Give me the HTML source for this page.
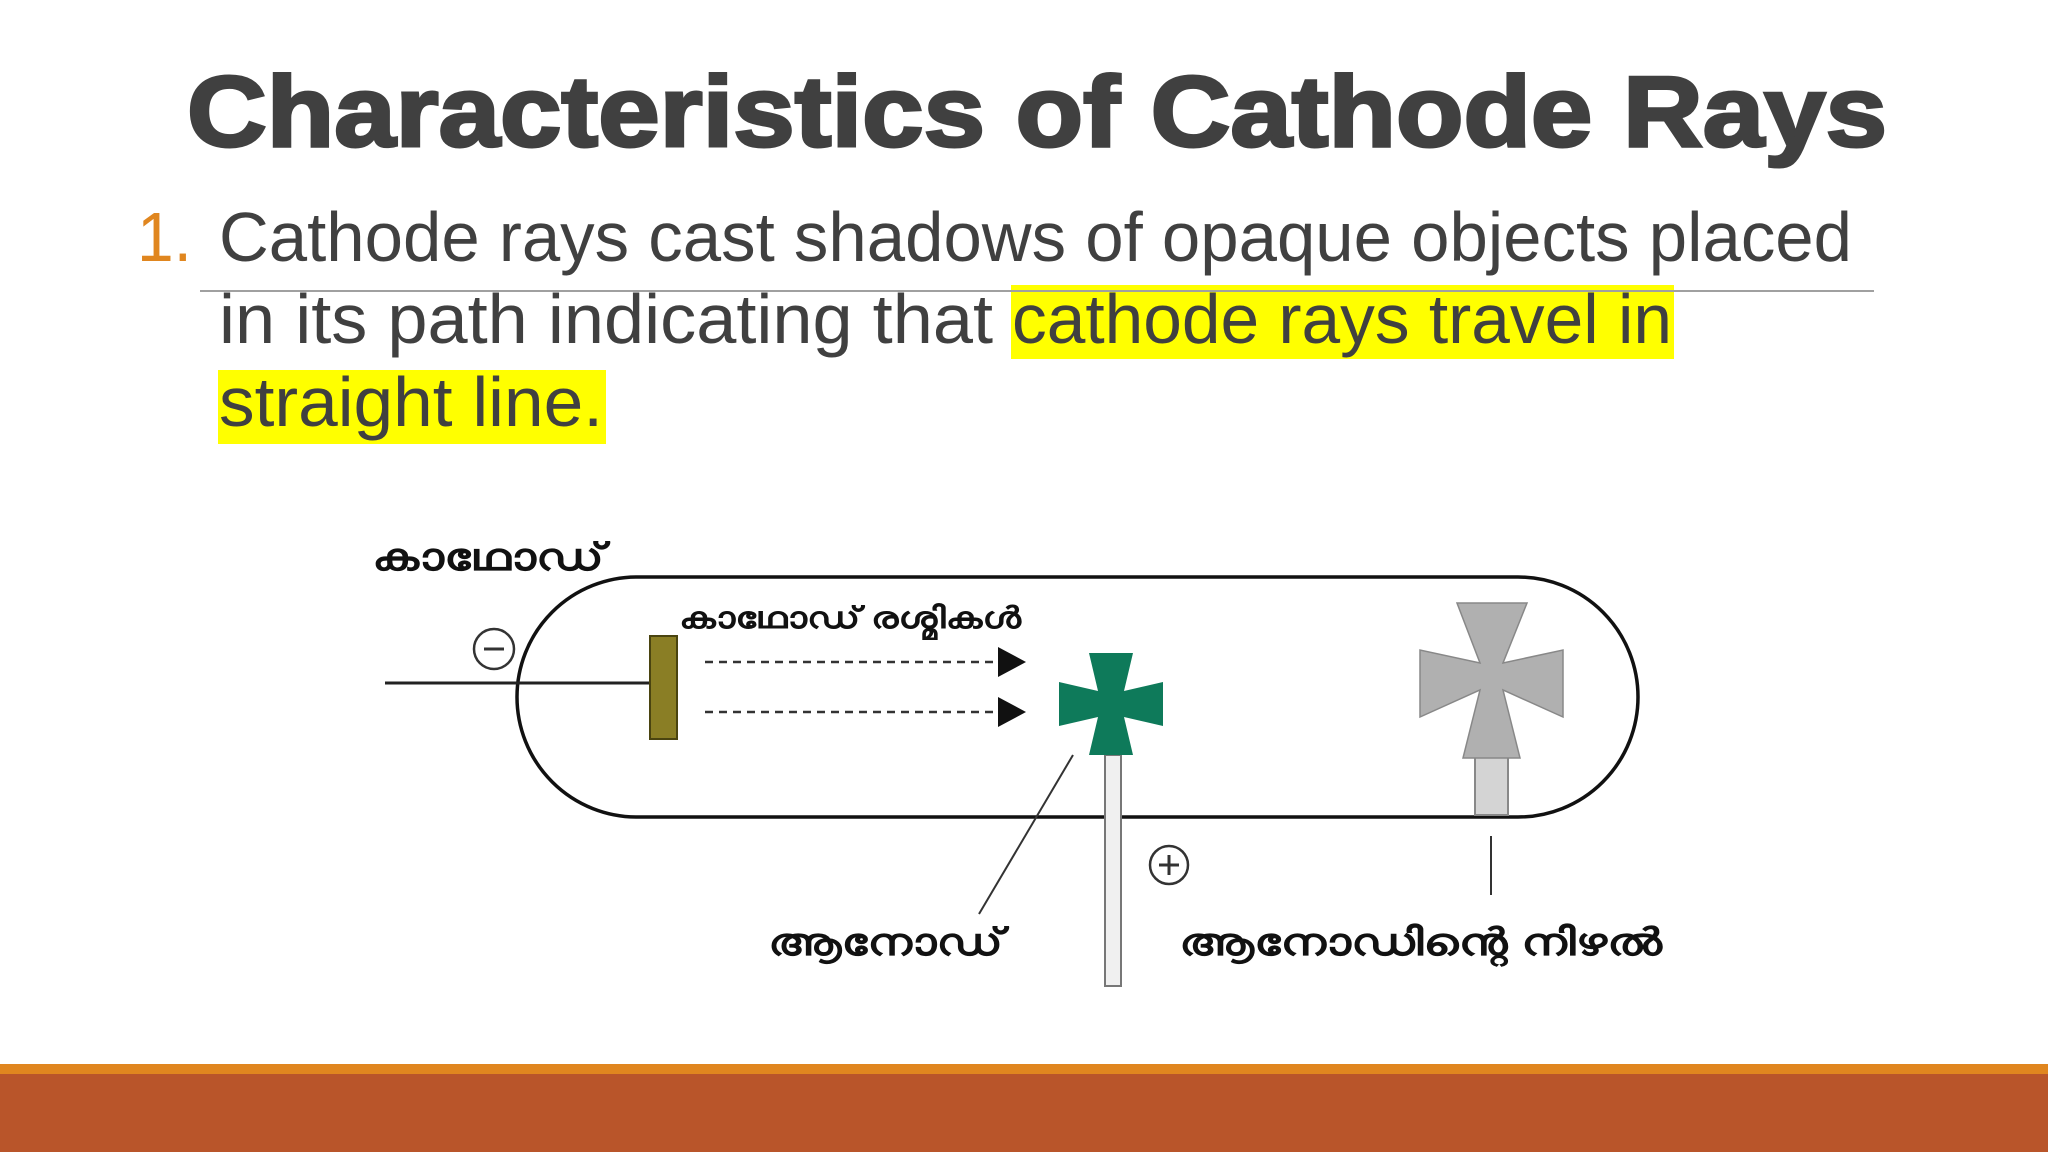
<!DOCTYPE html>
<html><head><meta charset="utf-8"><style>html,body{margin:0;padding:0;background:#fff}svg{display:block}</style></head>
<body>
<svg width="2048" height="1152" viewBox="0 0 2048 1152" xmlns="http://www.w3.org/2000/svg">
<rect width="2048" height="1152" fill="#fff"/>
<text x="187" y="146" font-family="Liberation Sans, sans-serif" font-weight="bold" font-size="100" fill="#404040" textLength="1700" lengthAdjust="spacingAndGlyphs" stroke="#404040" stroke-width="3">Characteristics of Cathode Rays</text>
<rect x="1011" y="285" width="663" height="74" fill="#ffff00"/>
<rect x="218" y="370" width="388" height="74" fill="#ffff00"/>
<line x1="200" y1="291" x2="1874" y2="291" stroke="#a0a0a0" stroke-width="2"/>
<g font-family="Liberation Sans, sans-serif" font-size="70" fill="#404040">
<text x="137" y="261" fill="#e0861f" textLength="55" lengthAdjust="spacingAndGlyphs">1.</text>
<text x="219" y="261" textLength="1633" lengthAdjust="spacingAndGlyphs">Cathode rays cast shadows of opaque objects placed</text>
<text x="219" y="343" textLength="774" lengthAdjust="spacingAndGlyphs">in its path indicating that</text>
<text x="1012" y="343" textLength="660" lengthAdjust="spacingAndGlyphs">cathode rays travel in</text>
<text x="219" y="426" textLength="384" lengthAdjust="spacingAndGlyphs">straight line.</text>
</g>
<rect x="517" y="577" width="1121" height="240" rx="120" ry="120" fill="none" stroke="#111" stroke-width="3.5"/>
<line x1="385" y1="683" x2="652" y2="683" stroke="#222" stroke-width="3"/>
<rect x="650" y="636" width="27" height="103" fill="#8a7e25" stroke="#4a4410" stroke-width="2"/>
<circle cx="494" cy="649" r="20" fill="#fff" stroke="#333" stroke-width="2.5"/>
<line x1="484" y1="649" x2="504" y2="649" stroke="#333" stroke-width="3"/>
<g stroke="#333" stroke-width="2.5" stroke-dasharray="8,6">
<line x1="705" y1="662" x2="1000" y2="662"/>
<line x1="705" y1="712" x2="1000" y2="712"/>
</g>
<polygon points="998,647 1026,662 998,677" fill="#111"/>
<polygon points="998,697 1026,712 998,727" fill="#111"/>
<rect x="1105" y="755" width="16" height="231" fill="#f0f0f0" stroke="#777" stroke-width="2"/>
<polygon fill="#0e7a5a" transform="translate(1111,704)" points="-22,-51 22,-51 13,-13 52,-22 52,22 13,13 22,51 -22,51 -13,13 -52,22 -52,-22 -13,-13"/>
<circle cx="1169" cy="865" r="19" fill="#fff" stroke="#333" stroke-width="2.5"/>
<line x1="1159" y1="865" x2="1179" y2="865" stroke="#333" stroke-width="3"/>
<line x1="1169" y1="855" x2="1169" y2="875" stroke="#333" stroke-width="3"/>
<rect x="1475" y="757" width="33" height="58" fill="#d4d4d4" stroke="#888" stroke-width="2"/>
<polygon fill="#b0b0b0" stroke="#888" stroke-width="1.5" points="1457,603 1527,603 1503,663 1563,650 1563,717 1503,690 1520,758 1463,758 1480,690 1420,717 1420,650 1480,663"/>
<line x1="1491" y1="836" x2="1491" y2="895" stroke="#333" stroke-width="2"/>
<line x1="979" y1="914" x2="1073" y2="755" stroke="#333" stroke-width="2"/>
<g font-family="Liberation Sans, 'DejaVu Sans', sans-serif" font-weight="bold" fill="#111">
<text x="372" y="570" font-size="38" textLength="232" lengthAdjust="spacingAndGlyphs">കാഥോഡ്</text>
<text x="679" y="628" font-size="30" textLength="342" lengthAdjust="spacingAndGlyphs">കാഥോഡ് രശ്മികൾ</text>
<text x="768" y="955" font-size="38" textLength="235" lengthAdjust="spacingAndGlyphs">ആനോഡ്</text>
<text x="1179" y="955" font-size="38" textLength="483" lengthAdjust="spacingAndGlyphs">ആനോഡിന്റെ നിഴൽ</text>
</g>
<rect x="0" y="1064" width="2048" height="10" fill="#e0861f"/>
<rect x="0" y="1074" width="2048" height="78" fill="#b9552a"/>
</svg>
</body></html>
